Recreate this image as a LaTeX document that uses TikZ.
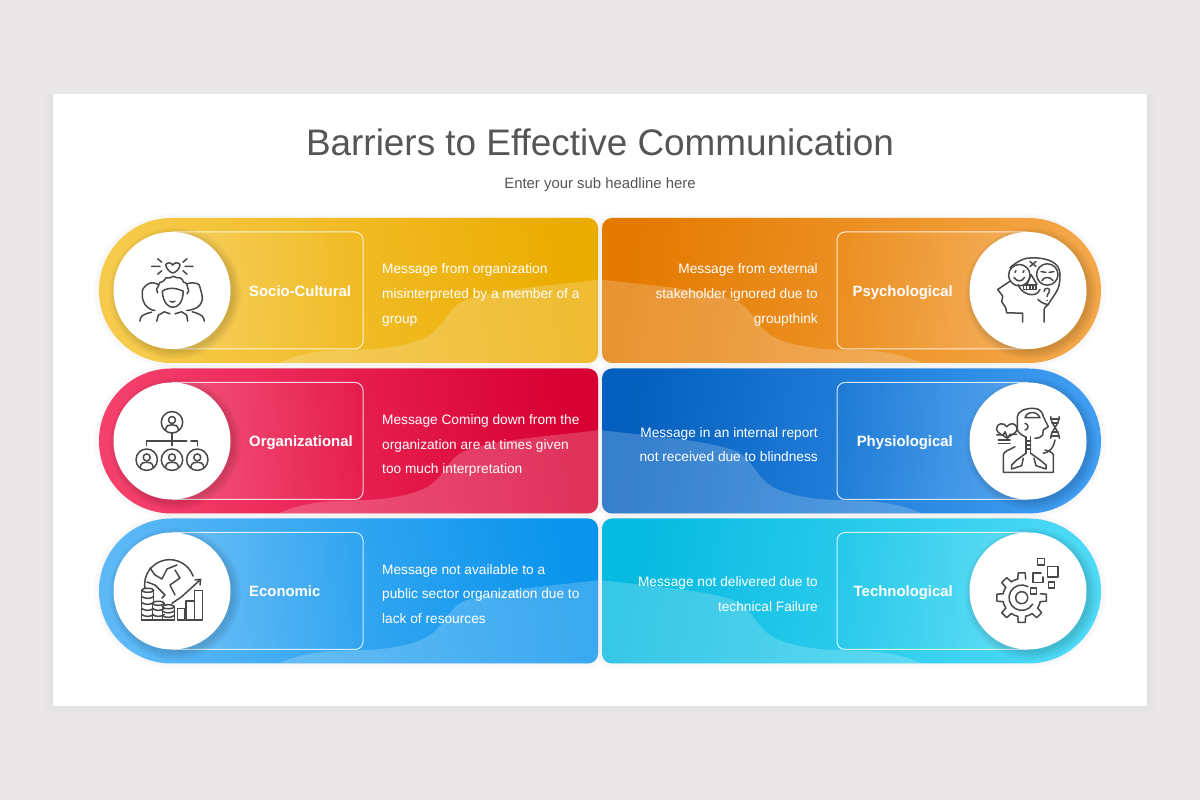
\documentclass[tikz,border=0pt]{standalone}
\usepackage{fontspec}
\setmainfont{Liberation Sans}
\usetikzlibrary{fadings}
\definecolor{pagebg}{HTML}{E9E7E8}
\definecolor{titlegray}{HTML}{555555}
\definecolor{icongray}{HTML}{484848}
\definecolor{yellowlight}{HTML}{F6CB4C}
\definecolor{yellowdark}{HTML}{EBAC00}
\definecolor{orangelight}{HTML}{F4A748}
\definecolor{orangedark}{HTML}{E47A00}
\definecolor{redlight}{HTML}{F5406C}
\definecolor{reddark}{HTML}{D80033}
\definecolor{navylight}{HTML}{3F9DF2}
\definecolor{navydark}{HTML}{045FBE}
\definecolor{skylight}{HTML}{5CB8F6}
\definecolor{skydark}{HTML}{0A94EC}
\definecolor{cyanlight}{HTML}{4EDAF6}
\definecolor{cyandark}{HTML}{06BAE0}
\tikzset{
  headtext/.style={text=white, font=\fontsize{14.9}{18}\selectfont\bfseries, inner sep=0pt},
  bodyleft/.style={text=white, font=\fontsize{13.7}{24.6}\selectfont, align=left, anchor=west, inner sep=0pt},
  bodyright/.style={text=white, font=\fontsize{13.7}{24.6}\selectfont, align=right, anchor=east, inner sep=0pt},
  iconline/.style={draw=icongray, line width=1.5, line cap=round, line join=round},
}
\newcommand{\cardpath}{(12,72.5) -- (428.5,72.5) arc (90:-90:72.5) -- (12,-72.5) arc (270:180:10) -- (2,62.5) arc (180:90:10) -- cycle}
\newcommand{\panelpath}{(428,58.5) -- (245,58.5) arc (90:180:8) -- (237,-50.5) arc (180:270:8) -- (428,-58.5)}
\newcommand{\barcard}[6]{%
  \begin{scope}[shift={(600,#1)},xscale=#2]
    \foreach \w in {3,7,11} {\draw[black, opacity=.012, line width=\w] \cardpath;}
    \path[left color=#3, right color=#4, shading angle=#5] \cardpath;
    \begin{scope}
      \clip \cardpath;
      \fill[white, opacity=.2] (0,11) .. controls (40,6) and (100,2) .. (133,-9) .. controls (150,-15) and (153,-30) .. (167,-42) .. controls (180,-53) and (210,-58) .. (233,-59) .. controls (260,-60) and (290,-58) .. (323,-73) -- (0,-73) -- cycle;
    \end{scope}
    \fill[white, fill opacity=.14, path fading=#6] \panelpath -- cycle;
    \draw[white, opacity=.8, line width=1] \panelpath;
  \end{scope}
  \foreach \r in {58.5,60,...,66} {\fill[black, opacity=.025] ({600+#2*428+3},{#1-3}) circle (\r);}
  \fill[white] ({600+#2*428},#1) circle (58.5);
}
\newcommand{\personmark}[2]{%
  \draw[iconline] (#1,#2) circle (10.7);
  \draw[iconline] (#1,#2+2.3) circle (3.5);
  \draw[iconline] (#1-6.5,#2-7.7) .. controls (#1-6,#2-3) and (#1-3,#2-2.5) .. (#1,#2-2.5) .. controls (#1+3,#2-2.5) and (#1+6,#2-3) .. (#1+6.5,#2-7.7);
}
\begin{document}
\begin{tikzpicture}[x=1pt,y=1pt]
\useasboundingbox (0,0) rectangle (1200,800);
\fill[pagebg] (0,0) rectangle (1200,800);
% page sheet
\foreach \w in {2,5,8} {\fill[black, opacity=.008] (53-\w,94-\w) rectangle (1147+\w,706);}
\fill[white] (53,94) rectangle (1147,706);

\node[text=titlegray, font=\fontsize{36.9}{42}\selectfont, inner sep=0pt] (maintitle) at (600,658) {Barriers to Effective Communication};
\node[text=titlegray, font=\fontsize{14.9}{18}\selectfont, inner sep=0pt] (subtitle) at (600,615.5) {Enter your sub headline here};

% the six cards
\barcard{509.5}{-1}{yellowlight}{yellowdark}{100}{east}
\barcard{509.5}{1}{orangedark}{orangelight}{80}{west}
\barcard{359}{-1}{redlight}{reddark}{100}{east}
\barcard{359}{1}{navydark}{navylight}{80}{west}
\barcard{209}{-1}{skylight}{skydark}{100}{east}
\barcard{209}{1}{cyandark}{cyanlight}{80}{west}

% left column
\node[headtext, anchor=base west] (headsocio) at (249,503.5) {Socio-Cultural};
\node[headtext, anchor=base west] (headorg) at (249,353.5) {Organizational};
\node[headtext, anchor=base west] (headecon) at (249,203.5) {Economic};
\node[bodyleft] (textsocio) at (382,505) {Message from organization\\misinterpreted by a member of a\\group};
\node[bodyleft] (textorg) at (382,354.5) {Message Coming down from the\\organization are at times given\\too much interpretation};
\node[bodyleft] (textecon) at (382,206) {Message not available to a\\public sector organization due to\\lack of resources};

% right column
\node[headtext, anchor=base east] (headpsy) at (953,503.5) {Psychological};
\node[headtext, anchor=base east] (headphy) at (953,353.5) {Physiological};
\node[headtext, anchor=base east] (headtech) at (953,203.5) {Technological};
\node[bodyright] (textpsy) at (818,505) {Message from external\\stakeholder ignored due to\\groupthink};
\node[bodyright] (textphy) at (818,355.5) {Message in an internal report\\not received due to blindness};
\node[bodyright] (texttech) at (818,206) {Message not delivered due to\\technical Failure};

% icon socio-cultural
\begin{scope}[shift={(172,509.5)}]
\draw[iconline] (-6.3,26) .. controls (-6,22) and (-2,18) .. (0.7,17.5) .. controls (4,18) and (8,22) .. (8,26) .. controls (6,28.5) and (2.5,28) .. (0.7,25.5) .. controls (-1,28) and (-4,28.5) .. (-6.3,26);
\draw[iconline] (-20.3,24) -- (-12,24) (13,24) -- (21,24) (-14.3,31.7) -- (-10.3,28.3) (15,31.7) -- (11,28.3) (-14.3,16.3) -- (-10.3,19.7) (15,16.3) -- (11,19.7);
\draw[iconline] (-14.3,-2.3) to[bend left=50] (-13.7,4.3) to[bend left=50] (-8.7,9.3) to[bend left=50] (-2,12.7) to[bend left=50] (4.7,12.7) to[bend left=50] (11.3,8.7) to[bend left=50] (15.7,2.7) to[bend left=50] (15,-3.3);
\draw[iconline] (-9.7,-0.7) .. controls (-9,-13) and (-3,-17) .. (0.7,-16.7) .. controls (5,-17) and (11,-13) .. (11.3,-0.7) .. controls (6,2) and (-3,4) .. (-9.7,-0.7);
\draw[iconline] (-2,-10.7) .. controls (0,-12) and (1,-12) .. (3,-10.7);
\draw[iconline] (-15.3,-30.7) -- (-13.7,-24.7) -- (-7.7,-21.3) -- (-2,-23.3) (3,-23.3) -- (9.7,-21.3) -- (14.7,-24.7) -- (15.7,-30.7);
\draw[iconline] (-13.7,6) .. controls (-17,8) and (-22,8) .. (-23.7,6.7) .. controls (-28,4) and (-30,1) .. (-29.7,-2.3) .. controls (-30,-8) and (-29,-11) .. (-27,-14) .. controls (-24,-18) and (-20,-20) .. (-17,-20);
\draw[iconline] (14.7,6.7) .. controls (18,8) and (24,8) .. (27,6) .. controls (29,0) and (30.5,-5) .. (30.3,-9) .. controls (29,-14) and (27,-16) .. (24.7,-17.3) .. controls (21,-19) and (17,-20) .. (14.7,-20);
\draw[iconline] (-32,-30.7) .. controls (-32,-26) and (-30,-24) .. (-20.3,-21.7) (32.3,-30.7) .. controls (32,-26) and (30,-24) .. (20.3,-21.3);
\end{scope}

% icon organizational
\begin{scope}[shift={(172,359)}]
\personmark{0}{18.7}
\personmark{-25.3}{-18.7}
\personmark{0}{-18.7}
\personmark{25.3}{-18.7}
\draw[iconline] (0,7.7) -- (0,-4.7) (-25.3,-4.7) -- (-25.3,0) -- (14.7,0) (19,0) -- (25.3,0) -- (25.3,-4.7);
\end{scope}

% icon economic
\begin{scope}[shift={(172,209)}]
\draw[iconline] (-27,2) arc (190:20:25);
\draw[iconline] (-22,23) -- (-17,16) -- (-10,12) -- (-5,22) -- (5,26);
\draw[iconline] (-25,9) -- (-17,6) -- (-7,-4) -- (-10,-7);
\draw[iconline] (3,21) -- (8,13) -- (-2,6) -- (3,-4);
\foreach \cx/\ya/\yb in {-24.3/0.7/-29, -13.7/-12.3/-29, -3.7/-15.7/-29} {
  \draw[iconline, fill=white] (\cx-6,\ya) rectangle (\cx+6,\yb);
  \draw[iconline, fill=white] (\cx,\ya) ellipse (6 and 2);
}
\foreach \cx/\yc in {-24.3/-5.5, -24.3/-11.5, -24.3/-17.5, -24.3/-23.5, -13.7/-17.5, -13.7/-23.5, -3.7/-20, -3.7/-24.5} {
  \draw[iconline] (\cx-6,\yc) .. controls (\cx-3,\yc-2.5) and (\cx+3,\yc-2.5) .. (\cx+6,\yc);
}
\draw[iconline] (5.7,-17.3) rectangle (13,-29) (14,-10) rectangle (22.3,-29) (22.3,0.3) rectangle (30.3,-29);
\draw[iconline] (0,-12.3) -- (9.7,-5.7) -- (28,11) (23,11) -- (28.7,11.7) -- (28,6);
\end{scope}

% icon psychological
\begin{scope}[shift={(1028,509.5)}]
\draw[iconline] (-18,9.3) -- (-30.3,1) -- (-25.3,-5.7) -- (-26.3,-11.3) -- (-22.3,-17.3) -- (-21.3,-22.3) -- (-5.3,-22.7) -- (-5.3,-31.7);
\draw[iconline] (-8.7,15.3) circle (10.7) (19.3,16) circle (10.7);
\draw[iconline] (-18,22.7) .. controls (-10,30) and (-3,32.7) .. (3.7,32.7) .. controls (20,32.7) and (32,28) .. (32,16) .. controls (32,8) and (31,3) .. (28.7,-0.7) .. controls (26,-6) and (22,-10) .. (20.3,-14) .. controls (18,-16) and (16,-17) .. (16,-19) -- (16,-31.7);
\draw[iconline] (-9.7,6) .. controls (-8,-3) and (8,-9) .. (12,1);
\draw[iconline] (-4.7,1) rectangle (8,5.3);
\draw[iconline] (-1.5,1) -- (-1.5,5.3) (2,1) -- (2,5.3) (5,1) -- (5,5.3);
\draw[iconline] (3,16) -- (-1,6) (3,16) -- (9,6);
\draw[iconline] (2,29) -- (8,24) (8,29) -- (2,24);
\draw[iconline] (-14,13) .. controls (-11,8.5) and (-6,8.5) .. (-3.5,13) (-13,18) -- (-12,20) (-5,18) -- (-4,20);
\draw[iconline] (14,10) .. controls (16,14) and (22,14) .. (25,10) (13,19) -- (18,18) (21,18) -- (26,19);
\draw[iconline] (10,-9) .. controls (13,-12) and (17,-14) .. (20.3,-14);
\draw[iconline] (16,-1) .. controls (16,4) and (24,3) .. (21,-2) .. controls (20,-4) and (19,-4) .. (19,-6) (19,-10) -- (19,-10.2);
\end{scope}

% icon physiological
\begin{scope}[shift={(1028,359)}]
\draw[iconline] (-3,4.3) .. controls (-8,7) and (-10.7,9) .. (-10.7,12.7) -- (-10.7,24.3) .. controls (-10,30) and (-3,32.7) .. (5.3,32.7) .. controls (12,32.7) and (15,28) .. (15.3,24.3) -- (20.3,14.3) -- (15.3,11) -- (14.7,6) .. controls (13,3) and (10,3) .. (7,2.7);
\draw[iconline] (-3,23.3) .. controls (-3,28) and (8,32) .. (12,23.3) -- cycle;
\draw[iconline] (-3,17.7) .. controls (1,17) and (1,11.5) .. (-3,11);
\draw[iconline] (-2,4.3) -- (-2,-12.3) (2.7,4.3) -- (2.7,-12.3);
\draw[iconline] (-2,0) -- (2.7,0) (-2,-4) -- (2.7,-4) (-2,-8) -- (2.7,-8);
\draw[iconline] (-2,-12.3) -- (-11.3,-19) -- (-16.3,-24) -- (-16.3,-28) -- (-6.3,-24.7) -- (-4.7,-17.3);
\draw[iconline] (2.7,-12.3) -- (12,-19) -- (18,-24) -- (18,-28) -- (8,-24.7) -- (6,-17.3);
\draw[iconline] (-13,-5.7) .. controls (-18,-9) and (-24.7,-10) .. (-24.7,-14) -- (-24.7,-31.3) -- (25.3,-31.3) -- (25.3,-14) .. controls (25,-11) and (20,-10) .. (17,-9);
\draw[iconline] (27,1) .. controls (26,-4) and (24,-8) .. (22,-9) .. controls (20,-11) and (18,-12) .. (15.3,-12.3);
\draw[iconline] (-21.3,14.3) .. controls (-24,19) and (-31.5,18) .. (-31.5,12) .. controls (-31.5,8) and (-25,6) .. (-21.3,3) .. controls (-17,6) and (-11,8) .. (-11,12) .. controls (-11,18) and (-18,19) .. cycle;
\draw[iconline] (-31.3,6) -- (-24.7,6) -- (-23,9.3) -- (-20.3,2.7) -- (-18,6.7) -- (-11.3,6.7);
\draw[iconline] (-29.7,1) -- (-18,1) (-29.7,-2.3) -- (-18,-2.3);
\draw[iconline] (22.7,24.3) .. controls (22.7,17) and (31.3,10) .. (31.3,2.7) (31.3,24.3) .. controls (31.3,17) and (22.7,10) .. (22.7,2.7);
\draw[iconline] (23,22) -- (31,22) (24,18) -- (30,18) (24,9) -- (30,9) (23,5) -- (31,5);
\end{scope}

% icon technological
\begin{scope}[shift={(1021.7,202.3)}]
\foreach \a in {0,90,135,180,225,270,315} {
  \draw[iconline] (\a-12:19) -- (\a-8:25) -- (\a+8:25) -- (\a+12:19);
}
\foreach \a in {135,180,225,270,315,360} {
  \draw[iconline] (\a-33:19) arc (\a-33:\a-12:19);
}
\draw[iconline] (6,0) arc (0:360:6);
\draw[iconline] (60:12.7) arc (60:330:12.7);
\end{scope}
\begin{scope}[shift={(1028,209)}]
\draw[iconline] (9.7,32.7) rectangle (16.3,26);
\draw[iconline] (19.3,24.7) rectangle (30,14);
\draw[iconline] (13,18) -- (5,18) -- (5,8.5) (5,8.5) -- (15,8.5) -- (15,14);
\draw[iconline] (20.7,9) rectangle (26.7,3);
\draw[iconline] (2.3,3) rectangle (8.3,-3);
\end{scope}
\end{tikzpicture}
\end{document}
